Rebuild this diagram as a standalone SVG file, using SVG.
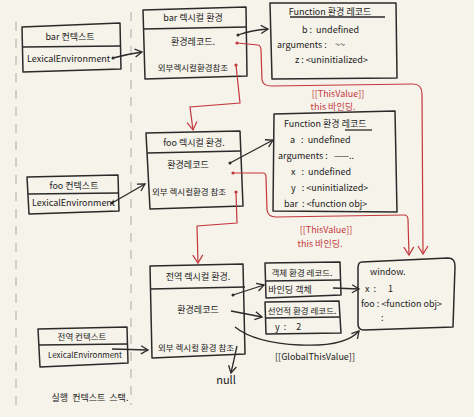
<svg xmlns="http://www.w3.org/2000/svg" width="474" height="417" viewBox="0 0 474 417">
<defs>
<style>
.bx{fill:none;stroke:#2a2a2a;stroke-width:1.5;stroke-linejoin:round}
.ln{fill:none;stroke:#2a2a2a;stroke-width:1.3}
.rd{fill:none;stroke:#c4373d;stroke-width:1.2}
.ds{fill:none;stroke:#b8b8b0;stroke-width:1.2;stroke-dasharray:9 8}
text{font-family:"Noto Sans CJK KR","Noto Sans",sans-serif;font-size:9px;fill:#222;white-space:pre}
.r{fill:#c4373d}
.m{text-anchor:middle}
</style>
<marker id="ab" markerWidth="10" markerHeight="10" refX="8" refY="5" orient="auto" markerUnits="userSpaceOnUse"><path d="M1,1 L8,5 L1,9" fill="none" stroke="#2a2a2a" stroke-width="1.3"/></marker>
<marker id="ar" markerWidth="12" markerHeight="12" refX="9" refY="6" orient="auto" markerUnits="userSpaceOnUse"><path d="M1,1 L9,6 L1,11" fill="none" stroke="#c4373d" stroke-width="1.2"/></marker>
</defs>
<rect width="474" height="417" fill="#f6f3ea"/>
<g id="stack-lines">
<line class="ds" x1="16" y1="22" x2="16" y2="405"/>
<line class="ds" x1="131" y1="12" x2="131" y2="405"/>
</g>

<g id="bar-context">
<path class="bx" d="M22,27 L120,23 L121,69 L23,72 Z"/>
<line class="ln" x1="23" y1="47" x2="120" y2="46"/>
<text x="70" y="40" class="m">bar 컨텍스트</text>
<text x="27" y="62">LexicalEnvironment</text>
</g>

<g id="bar-lex-env">
<path class="bx" d="M143,10 L246,7 L247,76 L145,79 Z"/>
<line class="ln" x1="143" y1="29" x2="246" y2="27"/>
<text x="193" y="21" class="m">bar 렉시컬 환경</text>
<text x="193" y="45" class="m">환경레코드.</text>
<text x="193" y="71" class="m" style="font-size:8.5px">외부렉시컬환경참조</text>
</g>

<g id="bar-func-record">
<path class="bx" d="M270,3 L396,3 L397,78 L272,79 Z"/>
<text x="330" y="15" class="m">Function 환경 레코드</text>
<line class="ln" x1="290" y1="17" x2="385" y2="17"/>
<text x="302" y="33">b :  undefined</text>
<text x="277" y="48">arguments :    ~~</text>
<text x="295" y="63">z : &lt;uninitialized&gt;</text>
</g>

<g id="foo-context">
<path class="bx" d="M27,177 L118,175 L119,211 L29,214 Z"/>
<line class="ln" x1="28" y1="194" x2="118" y2="193"/>
<text x="74" y="189" class="m">foo 컨텍스트</text>
<text x="32" y="206">LexicalEnvironment</text>
</g>

<g id="foo-lex-env">
<path class="bx" d="M146,133 L240,131 L243,206 L150,209 Z"/>
<line class="ln" x1="147" y1="153" x2="241" y2="151"/>
<text x="194" y="146" class="m">foo 렉시컬 환경.</text>
<text x="188" y="168" class="m">환경레코드</text>
<text x="152" y="195" style="font-size:8.5px">외부 렉시컬환경 참조</text>
</g>

<g id="foo-func-record">
<path class="bx" d="M274,114 L395,111 L397,212 L273,211 Z"/>
<text x="284" y="127">Function 환경 레코드</text>
<line class="ln" x1="345" y1="130" x2="372" y2="130"/>
<text x="290" y="143">a   :  undefined</text>
<text x="278" y="159">arguments :   ——..</text>
<text x="291" y="175">x   :  undefined</text>
<text x="291" y="191">y   : &lt;uninitialized&gt;</text>
<text x="284" y="207">bar  : &lt;function obj&gt;</text>
</g>

<g id="global-lex-env">
<path class="bx" d="M150,266 L243,264 L245,354 L152,358 Z"/>
<line class="ln" x1="150" y1="289" x2="245" y2="287"/>
<text x="198" y="280" class="m">전역 렉시컬 환경.</text>
<text x="198" y="313" class="m">환경레코드</text>
<text x="196" y="351" class="m" style="font-size:8.5px">외부 렉시컬 환경 참조</text>
</g>

<g id="object-env-record">
<path class="bx" d="M265,263 L340,262 L341,295 L266,298 Z"/>
<line class="ln" x1="266" y1="281" x2="340" y2="280"/>
<text x="302" y="276" class="m" style="font-size:8.5px">객체 환경 레코드.</text>
<text x="290" y="293" class="m">바인딩 객체</text>
</g>

<g id="decl-env-record">
<path class="bx" d="M265,302 L339,301 L341,333 L266,334 Z"/>
<line class="ln" x1="266" y1="318" x2="340" y2="317"/>
<text x="302" y="314" class="m" style="font-size:8.5px">선언적 환경 레코드.</text>
<text x="275" y="330">y  :     2</text>
</g>

<g id="window-object">
<path class="bx" d="M362,262 L448,258 Q455,258 455,266 L453,327 L364,330 Q358,330 358,324 L358,268 Q358,262 362,262 Z"/>
<text x="370" y="275">window.</text>
<text x="365" y="292">x  :      1</text>
<text x="361" y="307">foo : &lt;function obj&gt;</text>
<text x="381" y="321">:</text>
</g>

<g id="global-context">
<path class="bx" d="M38,329 L127,327 L128,363 L40,367 Z"/>
<line class="ln" x1="39" y1="345" x2="127" y2="344"/>
<text x="82" y="340" class="m" style="font-size:8.5px">전역 컨텍스트</text>
<text x="48" y="358" style="font-size:8px">LexicalEnvironment</text>
</g>

<g id="labels">
<text x="338" y="97" class="m r">[[ThisValue]]</text>
<text x="333" y="110" class="m r">this 바인딩.</text>
<text x="326" y="233" class="m r">[[ThisValue]]</text>
<text x="320" y="247" class="m r">this 바인딩.</text>
<text x="315" y="360" class="m">[[GlobalThisValue]]</text>
<text x="226" y="384" class="m" style="font-size:11px">null</text>
<text x="90" y="401" class="m">실행  컨텍스트  스택.</text>
</g>

<g id="connectors">
<circle cx="113" cy="58" r="1.5" fill="#2a2a2a"/>
<path class="ln" d="M113,58 Q128,54 142,52" marker-end="url(#ab)"/>
<circle cx="238" cy="35" r="1.5" fill="#2a2a2a"/>
<path class="ln" d="M238,35 Q252,30 268,29" marker-end="url(#ab)"/>
<circle cx="112" cy="203" r="1.5" fill="#2a2a2a"/>
<path class="ln" d="M112,203 L145,184" marker-end="url(#ab)"/>
<circle cx="230" cy="163" r="1.5" fill="#2a2a2a"/>
<path class="ln" d="M230,163 L273,140" marker-end="url(#ab)"/>
<path class="ln" d="M112,349 L148,350" marker-end="url(#ab)"/>
<circle cx="233" cy="295" r="1.5" fill="#2a2a2a"/>
<path class="ln" d="M233,295 L264,285" marker-end="url(#ab)"/>
<path class="ln" d="M231,311 L262,317" marker-end="url(#ab)"/>
<path class="ln" d="M235,327 Q255,343 300,345 Q345,347 359,331" marker-end="url(#ab)"/>
<path class="ln" d="M333,288 L359,289" marker-end="url(#ab)"/>
<path class="ln" d="M237,346 L231,373" marker-end="url(#ab)"/>

<circle cx="237" cy="43" r="1.6" fill="#c4373d"/>
<path class="rd" d="M237,43 L258,45 Q261,46 261,50 L262,80 Q263,86 272,86 L413,84 Q422,84 422,94 L423,254" marker-end="url(#ar)"/>
<circle cx="236" cy="65" r="1.6" fill="#c4373d"/>
<path class="rd" d="M236,65 L240,103 L190,107 L193,130" marker-end="url(#ar)"/>
<circle cx="233" cy="173" r="1.6" fill="#c4373d"/>
<path class="rd" d="M233,173 L263,173 Q266,173 266,177 L267,210 Q268,217 276,217 L404,215 Q408,215 408,220 L409,255" marker-end="url(#ar)"/>
<circle cx="236" cy="192" r="1.6" fill="#c4373d"/>
<path class="rd" d="M236,192 L237,223 L197,226 L198,263" marker-end="url(#ar)"/>
</g>
</svg>
